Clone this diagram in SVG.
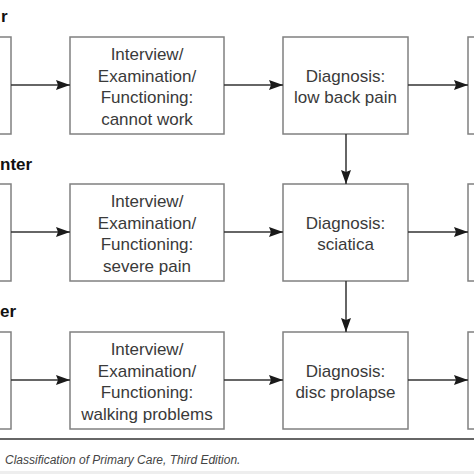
<svg xmlns="http://www.w3.org/2000/svg" width="474" height="474" viewBox="0 0 474 474">
<defs>
<marker id="ah" viewBox="0 0 14 10" refX="14" refY="5" markerWidth="14" markerHeight="10" markerUnits="userSpaceOnUse" orient="auto">
<path d="M0,0 L14,5 L0,10 L2,5 Z" fill="#1a1a1a"/>
</marker>
</defs>
<style>
.box{fill:#fff;stroke:#808080;stroke-width:1.5}
.t{font-family:"Liberation Sans",Arial,sans-serif;font-size:17px;fill:#3a3a3a;text-anchor:middle}
.h{font-family:"Liberation Sans",Arial,sans-serif;font-size:17px;font-weight:bold;fill:#111}
.c{stroke:#333;stroke-width:1.5;fill:none;marker-end:url(#ah)}
.cap{font-family:"Liberation Sans",Arial,sans-serif;font-size:12px;font-style:italic;fill:#444}
</style>
<rect width="474" height="474" fill="#fff"/>
<text class="h" x="1" y="22">r</text>
<text class="h" x="0" y="170">nter</text>
<text class="h" x="0" y="317">er</text>
<g id="left1"><rect class="box" x="-5" y="37" width="16" height="97"/></g>
<g id="left2"><rect class="box" x="-5" y="184" width="16" height="97"/></g>
<g id="left3"><rect class="box" x="-5" y="332" width="16" height="97"/></g>
<g id="interview1"><rect class="box" x="70" y="37" width="154" height="97"/>
<text class="t" x="147" y="60">Interview/</text><text class="t" x="147" y="81.5">Examination/</text><text class="t" x="147" y="103">Functioning:</text><text class="t" x="147" y="124.5">cannot work</text></g>
<g id="interview2"><rect class="box" x="70" y="184" width="154" height="97"/>
<text class="t" x="147" y="207">Interview/</text><text class="t" x="147" y="228.5">Examination/</text><text class="t" x="147" y="250">Functioning:</text><text class="t" x="147" y="271.5">severe pain</text></g>
<g id="interview3"><rect class="box" x="70" y="332" width="154" height="97"/>
<text class="t" x="147" y="355">Interview/</text><text class="t" x="147" y="376.5">Examination/</text><text class="t" x="147" y="398">Functioning:</text><text class="t" x="147" y="419.5">walking problems</text></g>
<g id="diag1"><rect class="box" x="283" y="37" width="125" height="97"/>
<text class="t" x="345.5" y="82">Diagnosis:</text><text class="t" x="345.5" y="103">low back pain</text></g>
<g id="diag2"><rect class="box" x="283" y="184" width="125" height="97"/>
<text class="t" x="345.5" y="229">Diagnosis:</text><text class="t" x="345.5" y="250">sciatica</text></g>
<g id="diag3"><rect class="box" x="283" y="332" width="125" height="97"/>
<text class="t" x="345.5" y="377">Diagnosis:</text><text class="t" x="345.5" y="398">disc prolapse</text></g>
<g id="right1"><rect class="box" x="468" y="37" width="20" height="97"/></g>
<g id="right2"><rect class="box" x="468" y="184" width="20" height="97"/></g>
<g id="right3"><rect class="box" x="468" y="332" width="20" height="97"/></g>
<g id="connectors">
<line class="c" x1="11" y1="85" x2="70" y2="85"/>
<line class="c" x1="224" y1="85" x2="283" y2="85"/>
<line class="c" x1="408" y1="85" x2="468" y2="85"/>
<line class="c" x1="11" y1="232" x2="70" y2="232"/>
<line class="c" x1="224" y1="232" x2="283" y2="232"/>
<line class="c" x1="408" y1="232" x2="468" y2="232"/>
<line class="c" x1="11" y1="380" x2="70" y2="380"/>
<line class="c" x1="224" y1="380" x2="283" y2="380"/>
<line class="c" x1="408" y1="380" x2="468" y2="380"/>
<line class="c" x1="346" y1="134" x2="346" y2="184"/>
<line class="c" x1="346" y1="281" x2="346" y2="332"/>
</g>
<line x1="0" y1="439" x2="474" y2="439" stroke="#666" stroke-width="2"/>
<text class="cap" x="5" y="464">Classification of Primary Care, Third Edition.</text>
<rect x="0" y="471" width="474" height="3" fill="#eee"/>
</svg>
